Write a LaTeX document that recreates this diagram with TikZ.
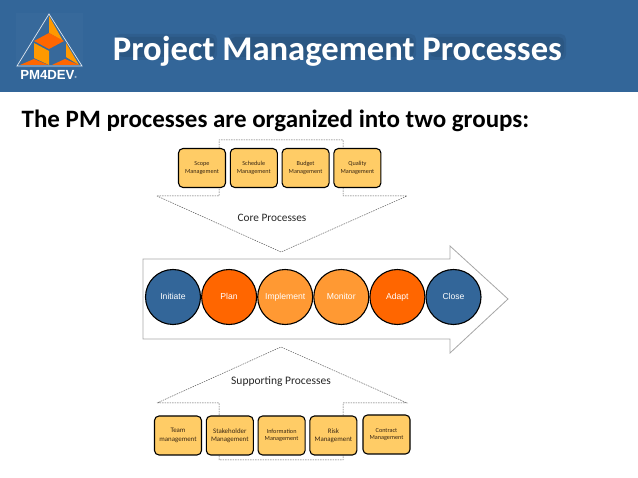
\documentclass[tikz,border=0pt]{standalone}
\usepackage{fontspec}
\setmainfont{Carlito}
\newfontfamily\arialfont{Liberation Sans}
\usetikzlibrary{positioning}
\definecolor{pmblue}{RGB}{51,102,153}
\definecolor{pmdeep}{RGB}{255,102,0}
\definecolor{pmlight}{RGB}{255,153,51}
\definecolor{pmgold}{RGB}{255,153,0}
\definecolor{pmbox}{RGB}{255,204,102}
\tikzset{
	procbox/.style={draw=black, line width=1.1pt, rounded corners=4.5pt, fill=pmbox, minimum width=47pt, minimum height=39pt, inner sep=0pt, align=center, text=black!70!brown, font=\fontsize{6.2}{7.5}\selectfont},
	bigbox/.style={procbox, font=\fontsize{6.9}{8.5}\selectfont},
	phase/.style={circle, draw=black, line width=1.1pt, minimum size=55pt, inner sep=0pt, text=white, text height=7pt, text depth=2pt, font=\arialfont\fontsize{8.6}{10}\selectfont},
	callout/.style={dash pattern=on 1.5pt off 1pt, draw=black!65, line width=0.5pt},
	smudge/.style={black, opacity=0.07, rounded corners=5pt}
}
\begin{document}
\begin{tikzpicture}[x=1pt, y=-1pt]
	%%%%% HEADER %%%%%
	\useasboundingbox (0, 0) rectangle (638, 478);
	\fill[pmblue] (0, 0) rectangle (638, 92);
	\fill[white, opacity=0.025] (16, 13) rectangle (83, 68);
	
	\fill[pmgold] (49, 16) -- (49, 33) -- (63, 41) -- cycle;
	\fill[pmdeep] (34, 41) -- (49, 33) -- (64, 41) -- (49, 49) -- cycle;
	\fill[pmgold] (34, 43) -- (49, 51) -- (49, 65) -- (34, 58) -- cycle;
	\fill[pmgold] (66, 43) -- (66, 57) -- (79, 65) -- cycle;
	\fill[pmdeep] (20, 65) -- (34, 59) -- (48, 65) -- cycle;
	\fill[pmdeep] (52, 65) -- (65, 59) -- (79, 65) -- cycle;
	\draw[white!85!pmblue, line width=0.7pt] (49, 14) -- (17, 66) -- (82, 66) -- cycle;
	\node[text=white, font=\arialfont\bfseries\fontsize{13.2}{15}\selectfont, inner sep=0pt] (logotext) at (48.5, 74.5) {PM4DEV\raisebox{1pt}{\fontsize{3}{3}\selectfont ®}};
	
	% soft shadow of the title, one patch per word
	\fill[smudge] (115, 34) rectangle (217, 60);
	\fill[smudge] (227, 34) rectangle (416, 60);
	\fill[smudge] (427, 34) rectangle (566, 60);
	\fill[smudge] (118, 37) rectangle (215, 57);
	\fill[smudge] (230, 37) rectangle (414, 57);
	\fill[smudge] (430, 37) rectangle (564, 57);
	\node[text=white, font=\bfseries\fontsize{34.6}{38}\selectfont, inner sep=0pt] (title) at (337.5, 51) {Project Management Processes};
	\node[text=black, font=\bfseries\fontsize{25}{30}\selectfont, inner sep=0pt] (subtitle) at (275.5, 121) {The PM processes are organized into two groups:};
	
	%%%%% CORE %%%%%
	\draw[callout] (157, 196) -- (219, 196) -- (219, 140) -- (343, 140) -- (343, 196) -- (407, 196) -- (281, 252) -- cycle;
	\node[procbox] (scope) at (202, 168) {Scope\\Management};
	\node[procbox, right=3.7pt of scope] (schedule) {Schedule\\Management};
	\node[procbox, right=3.7pt of schedule] (budget) {Budget\\Management};
	\node[procbox, right=3.7pt of budget] (quality) {Quality\\Management};
	\node[font=\fontsize{11.3}{13}\selectfont, text=black!85, inner sep=0pt] (core) at (272, 218) {Core Processes};
	
	%%%%% ARROW %%%%%
	\draw[black!35, line width=0.8pt] (143, 259) -- (450, 259) -- (450, 246) -- (508, 299) -- (450, 353) -- (450, 339) -- (143, 339) -- cycle;
	\node[phase, fill=pmblue] (initiate) at (173, 297) {Initiate};
	\node[phase, fill=pmdeep, right=0pt of initiate] (plan) {Plan};
	\node[phase, fill=pmlight, right=0pt of plan] (implement) {Implement};
	\node[phase, fill=pmlight, right=0pt of implement] (monitor) {Monitor};
	\node[phase, fill=pmdeep, right=0pt of monitor] (adapt) {Adapt};
	\node[phase, fill=pmblue, right=0pt of adapt] (close) {Close};
	
	%%%%% SUPPORTING %%%%%
	\draw[callout] (157, 403) -- (219, 403) -- (219, 460) -- (343, 460) -- (343, 403) -- (407, 403) -- (281, 347) -- cycle;
	\node[bigbox] (team) at (178, 435.5) {Team\\management};
	\node[bigbox, right=3.7pt of team] (stakeholder) {Stakeholder\\Management};
	\node[procbox, right=3.7pt of stakeholder] (information) {Information\\Management};
	\node[bigbox, right=3.7pt of information] (risk) {Risk\\Management};
	\node[procbox, right=5pt of risk, yshift=1pt] (contract) {Contract\\Management};
	\node[font=\fontsize{11.5}{13}\selectfont, text=black!85, inner sep=0pt] (supporting) at (281, 381.5) {Supporting Processes};
	%%%%% END %%%%%
\end{tikzpicture}
\end{document}
